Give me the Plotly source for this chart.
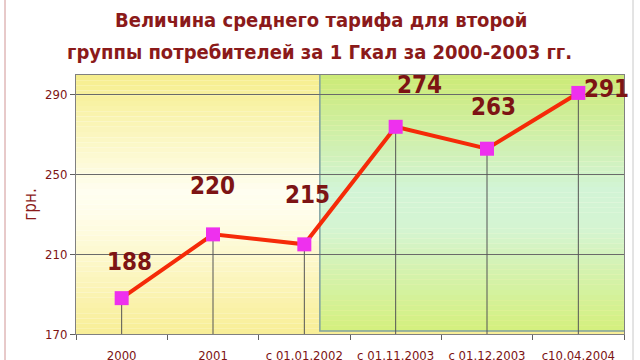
import plotly.graph_objects as go

categories = ["2000", "2001", "с 01.01.2002", "с 01.11.2003", "с 01.12.2003", "с10.04.2004"]
tariff = [188, 220, 215, 274, 263, 291]
y_ticks = [170, 210, 250, 290]

title_line1 = "Величина среднего тарифа для второй"
title_line2 = "группы потребителей за 1 Гкал за 2000-2003 гг."

# label offsets in pixels (style only)
label_dx = [8, -1, 3, 24, 6, 28]
label_dy = [36, 48, 49, 42, 42, 4]

FONT = "Liberation Sans Narrow, Arial Narrow, DejaVu Sans Condensed, sans-serif"
DARK_RED = "#7d1414"


def lerp(c1, c2, t):
    return tuple(int(round(a + (b - a) * t)) for a, b in zip(c1, c2))


def grad(stops, t):
    for i in range(len(stops) - 1):
        t0, c0 = stops[i]
        t1, c1 = stops[i + 1]
        if t0 <= t <= t1:
            return lerp(c0, c1, (t - t0) / (t1 - t0) if t1 > t0 else 0)
    return stops[-1][1]


shapes = []
N = 50
yellow_stops = [(0.0, (246, 238, 140)), (0.45, (255, 254, 240)), (0.55, (255, 253, 232)), (1.0, (248, 238, 150))]
for i in range(N):
    t = (i + 0.5) / N
    c = grad(yellow_stops, t)
    shapes.append(dict(type="rect", xref="x domain", yref="y domain",
                       x0=0, x1=1, y1=1 - i / N, y0=1 - (i + 1) / N,
                       fillcolor="rgb(%d,%d,%d)" % c, line=dict(width=0), layer="below"))

gx0, gx1 = 2.17, 5.53
gy0, gy1 = 171.5, 300.5
green_stops = [(0.0, (204, 234, 118)), (0.45, (210, 244, 214)), (0.6, (212, 244, 210)), (1.0, (212, 240, 126))]
for i in range(N):
    t = (i + 0.5) / N
    c = grad(green_stops, t)
    yt = gy1 - (gy1 - gy0) * i / N
    yb = gy1 - (gy1 - gy0) * (i + 1) / N
    shapes.append(dict(type="rect", xref="x", yref="y", x0=gx0, x1=gx1, y0=yb, y1=yt,
                       fillcolor="rgb(%d,%d,%d)" % c, line=dict(width=0), layer="below"))
shapes.append(dict(type="rect", xref="x", yref="y", x0=gx0, x1=gx1, y0=gy0, y1=gy1,
                   fillcolor="rgba(0,0,0,0)", line=dict(width=1.5, color="#7fa0a0"), layer="below"))

# slide border decorations
shapes.append(dict(type="line", xref="paper", yref="paper", x0=(5 - 76) / 548, x1=(5 - 76) / 548,
                   y0=-1, y1=2, line=dict(color="#d09494", width=1)))
shapes.append(dict(type="line", xref="paper", yref="paper", x0=(633 - 76) / 548, x1=(633 - 76) / 548,
                   y0=-1, y1=2, line=dict(color="#c8c8c8", width=1)))

fig = go.Figure()

dx, dy = [], []
for c, v in zip(categories, tariff):
    dx += [c, c, None]
    dy += [y_ticks[0], v, None]
fig.add_trace(go.Scatter(x=dx, y=dy, mode="lines", line=dict(color="#555555", width=1),
                         hoverinfo="skip", showlegend=False))

fig.add_trace(go.Scatter(x=categories, y=tariff, mode="lines+markers",
                         line=dict(color="#f52a08", width=4),
                         marker=dict(symbol="square", size=14, color="#ee30ee",
                                     line=dict(width=0)),
                         showlegend=False, cliponaxis=False))

annotations = []
for i, (v, ox, oy) in enumerate(zip(tariff, label_dx, label_dy)):
    annotations.append(dict(x=i, y=v, xref="x", yref="y", text="<b>%d</b>" % v, showarrow=False,
                            xshift=ox, yshift=oy, font=dict(family=FONT, size=24, color=DARK_RED)))

annotations.append(dict(x=0.5, y=1, xref="paper", yref="paper", text="<b>" + title_line1 + "</b>",
                        showarrow=False, xshift=-29, yshift=69,
                        font=dict(family=FONT, size=20, color="#8b1a1a")))
annotations.append(dict(x=0.5, y=1, xref="paper", yref="paper", text="<b>" + title_line2 + "</b>",
                        showarrow=False, xshift=-31, yshift=37,
                        font=dict(family=FONT, size=20, color="#8b1a1a")))

fig.update_layout(
    width=640, height=360,
    margin=dict(l=76, r=16, t=75, b=26, autoexpand=False),
    paper_bgcolor="white",
    plot_bgcolor="rgba(0,0,0,0)",
    shapes=shapes,
    annotations=annotations,
    font=dict(family=FONT, color=DARK_RED),
)
fig.update_xaxes(type="category", range=[-0.5, 5.5], showgrid=False, tickson="boundaries",
                 ticks="outside", ticklen=5, tickcolor="#606060", automargin=False,
                 showline=True, linecolor="#808080", linewidth=1, mirror=True,
                 tickfont=dict(family=FONT, size=13, color=DARK_RED), ticklabelstandoff=9)
fig.update_yaxes(range=[170, 300], tickvals=y_ticks, showgrid=True, gridcolor="#6a6a6a", gridwidth=1,
                 ticks="outside", ticklen=5, tickcolor="#606060", zeroline=False, automargin=False,
                 showline=True, linecolor="#808080", linewidth=1, mirror=True,
                 tickfont=dict(family=FONT, size=13, color=DARK_RED),
                 title=dict(text="грн.", font=dict(family=FONT, size=17, color="#8b1a1a"), standoff=4))

fig.write_html("out.html")
